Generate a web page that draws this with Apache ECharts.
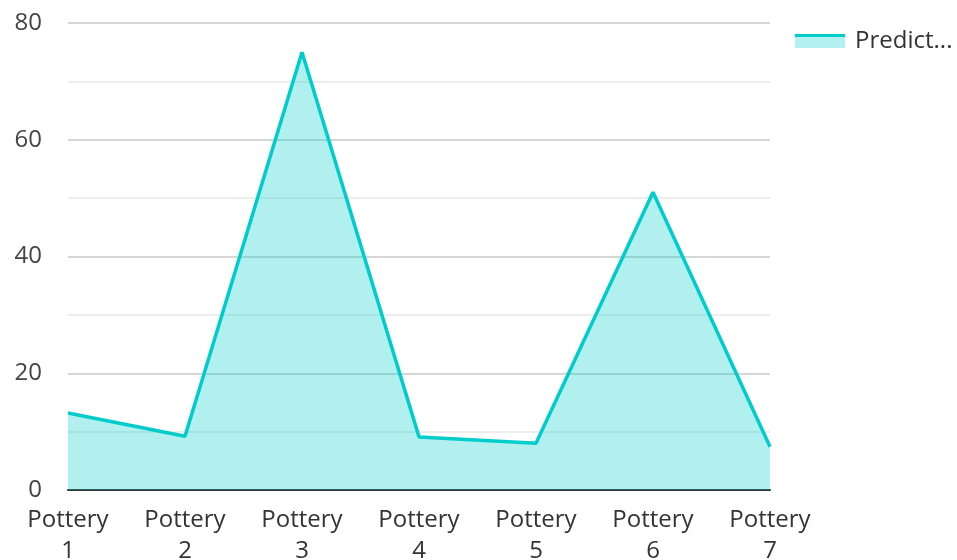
<!DOCTYPE html>
<html>
<head>
<meta charset="utf-8">
<script src="https://cdn.jsdelivr.net/npm/echarts@6/dist/echarts.min.js"></script>
<style>html,body{margin:0;padding:0;background:#fff}#chart{width:957px;height:560px}</style>
</head>
<body>
<div id="chart"></div>
<script>
// categories and values
var categories = ['Pottery 1','Pottery 2','Pottery 3','Pottery 4','Pottery 5','Pottery 6','Pottery 7'];
var predicted = [13.2, 9.2, 75, 9.1, 8.0, 51, 7.4];
var seriesName = 'Predicted Sales';
var yTicks = [0, 20, 40, 60, 80];

var lineColor = '#00cccc';

var chart = echarts.init(document.getElementById('chart'));
var option = {
	animation: false,
	textStyle: { fontFamily: 'Open Sans' },
	grid: { left: 68, right: 187, top: 23, bottom: 70, containLabel: false, outerBoundsMode: 'none' },
	legend: {
		left: 790,
		top: 24,
		itemWidth: 50,
		itemHeight: 14,
		itemGap: 10,
		data: [{
			name: seriesName,
			icon: 'rect',
			itemStyle: {
				// 图例：上方实线 + 下方面积
				color: new echarts.graphic.LinearGradient(0, 0, 0, 1, [
					{ offset: 0, color: lineColor },
					{ offset: 0.25, color: lineColor },
					{ offset: 0.25, color: '#b3f0f0' },
					{ offset: 1, color: '#b3f0f0' }
				])
			}
		}],
		textStyle: {
			fontSize: 24,
			color: '#333',
			width: 108,
			padding: [0, 0, 0, 5],
			overflow: 'truncate',
			ellipsis: '...'
		}
	},
	xAxis: {
		type: 'category',
		data: categories,
		boundaryGap: false,
		axisLine: { lineStyle: { color: '#333', width: 2 } },
		axisTick: { show: false },
		axisLabel: {
			fontSize: 24,
			color: '#333',
			lineHeight: 31,
			margin: 15,
			interval: 0,
			formatter: function (v) { return v.replace(' ', '\n'); }
		}
	},
	yAxis: {
		type: 'value',
		min: yTicks[0],
		max: yTicks[yTicks.length - 1],
		interval: 20,
		axisLine: { show: false },
		axisTick: { show: false },
		axisLabel: { fontSize: 24, color: '#444', margin: 26 },
		splitLine: { lineStyle: { color: '#c8c8c8', width: 1.5 } },
		minorTick: { show: false, splitNumber: 2 },
		minorSplitLine: { show: true, lineStyle: { color: '#e8e8e8', width: 1.5 } }
	},
	series: [{
		name: seriesName,
		type: 'line',
		data: predicted,
		showSymbol: false,
		symbol: 'none',
		lineStyle: { color: lineColor, width: 3.5 },
		itemStyle: { color: lineColor },
		areaStyle: { color: lineColor, opacity: 0.3 }
	}]
};
chart.setOption(option);
</script>
</body>
</html>
